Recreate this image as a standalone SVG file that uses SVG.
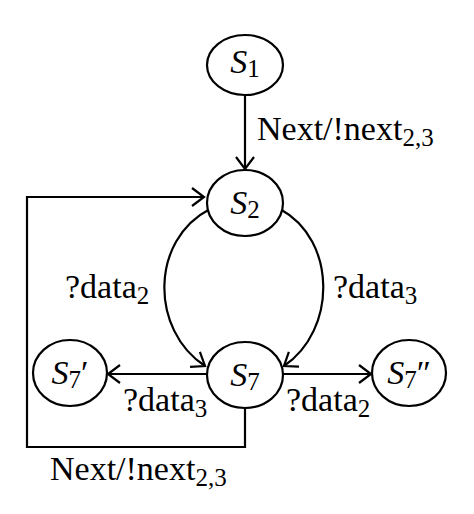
<svg xmlns="http://www.w3.org/2000/svg" width="474" height="514" viewBox="0 0 474 514">
<style>
.n{fill:#fff;stroke:#000;stroke-width:2.2}
.e{fill:none;stroke:#000;stroke-width:2.2}
text{font-family:"Liberation Serif","Times New Roman",serif;font-size:34px;fill:#000}
.st{font-style:italic}
.sub{font-size:25px;font-style:normal}
</style>
<defs>
<marker id="a" markerUnits="userSpaceOnUse" markerWidth="30" markerHeight="30" viewBox="-15 -15 30 30" refX="0" refY="0" orient="auto">
<path d="M -12 -9 L 0 0 L -12 9" fill="none" stroke="#000" stroke-width="2.2"/>
</marker>
</defs>
<g id="connectors">
<path class="e" d="M 245 95 L 245 169" marker-end="url(#a)"/>
<path class="e" d="M 245 408 L 245 447 L 27 447 L 27 197 L 204 197" marker-end="url(#a)"/>
<path class="e" d="M 210 209 C 150 240, 150 330, 205 366" marker-end="url(#a)"/>
<path class="e" d="M 280 209 C 337 240, 337 330, 284 366" marker-end="url(#a)"/>
<path class="e" d="M 207 374 L 108 374" marker-end="url(#a)"/>
<path class="e" d="M 283 374 L 371 374" marker-end="url(#a)"/>
<text x="257" y="140">Next/!next<tspan class="sub" dy="6">2,3</tspan></text>
<text x="65" y="298">?data<tspan class="sub" dy="6">2</tspan></text>
<text x="333" y="298">?data<tspan class="sub" dy="6">3</tspan></text>
<text x="123" y="411">?data<tspan class="sub" dy="6">3</tspan></text>
<text x="286" y="411">?data<tspan class="sub" dy="6">2</tspan></text>
<text x="50" y="480">Next/!next<tspan class="sub" dy="6">2,3</tspan></text>
</g>
<g id="S1">
<ellipse class="n" cx="245" cy="65" rx="38" ry="30"/>
<text x="245" y="73" text-anchor="middle"><tspan class="st">S</tspan><tspan class="sub" dy="4">1</tspan></text>
</g>
<g id="S2">
<ellipse class="n" cx="245" cy="203" rx="38" ry="33"/>
<text x="245" y="214" text-anchor="middle"><tspan class="st">S</tspan><tspan class="sub" dy="4">2</tspan></text>
</g>
<g id="S7">
<ellipse class="n" cx="245" cy="375" rx="38" ry="33"/>
<text x="245" y="386" text-anchor="middle"><tspan class="st">S</tspan><tspan class="sub" dy="4">7</tspan></text>
</g>
<g id="S7p">
<ellipse class="n" cx="70" cy="373" rx="37" ry="33"/>
<text x="70" y="384" text-anchor="middle"><tspan class="st">S</tspan><tspan class="sub" dy="4">7</tspan><tspan dy="-4">′</tspan></text>
</g>
<g id="S7pp">
<ellipse class="n" cx="409" cy="373" rx="37" ry="33"/>
<text x="409" y="384" text-anchor="middle"><tspan class="st">S</tspan><tspan class="sub" dy="4">7</tspan><tspan dy="-4">″</tspan></text>
</g>
</svg>
